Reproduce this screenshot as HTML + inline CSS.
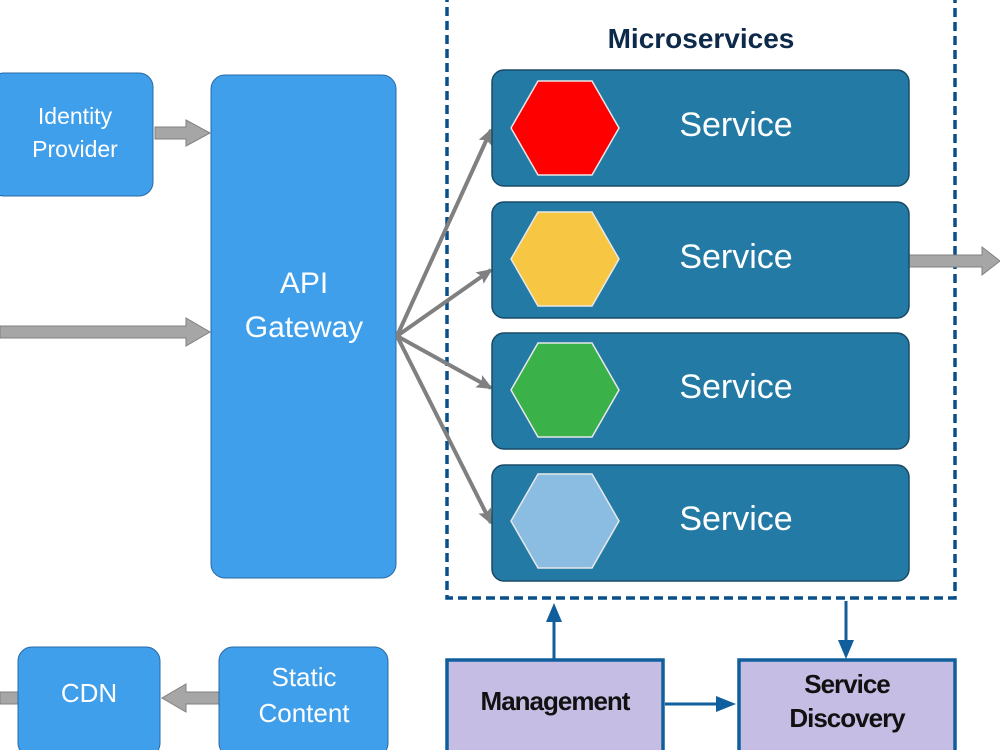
<!DOCTYPE html>
<html><head><meta charset="utf-8"><style>html,body{margin:0;padding:0;background:#fff}svg{display:block}</style></head>
<body>
<svg width="1000" height="750" viewBox="0 0 1000 750" xmlns="http://www.w3.org/2000/svg" font-family="'Liberation Sans',sans-serif">
<defs>
<marker id="ga" markerWidth="16" markerHeight="14" refX="14" refY="7" orient="auto" markerUnits="userSpaceOnUse"><path d="M0,0 L16,7 L0,14 L3,7 Z" fill="#808080"/></marker>
</defs>
<!-- Dashed container -->
<rect x="447" y="-2" width="508" height="600" fill="none" stroke="#0a4f8a" stroke-width="3.5" stroke-dasharray="9,5"/>
<text x="701" y="48" text-anchor="middle" font-size="28" font-weight="bold" fill="#0d2a4a">Microservices</text>

<!-- Identity Provider -->
<rect x="-10" y="73" width="163" height="123" rx="14" fill="#3f9feb" stroke="#2a6aa8" stroke-width="1"/>
<text x="75" y="124" text-anchor="middle" font-size="23" fill="#fff">Identity</text>
<text x="75" y="157" text-anchor="middle" font-size="23" fill="#fff">Provider</text>

<!-- API Gateway -->
<rect x="211" y="75" width="185" height="503" rx="14" fill="#3f9feb" stroke="#2a6aa8" stroke-width="1"/>
<text x="304" y="293" text-anchor="middle" font-size="30" fill="#fff">API</text>
<text x="304" y="337" text-anchor="middle" font-size="30" fill="#fff">Gateway</text>

<!-- thick gray arrows -->
<g fill="#a6a6a6" stroke="#808080" stroke-width="1">
<path d="M155,127 H186 V120 L210,133 L186,146 V139 H155 Z"/>
<path d="M0,326 H186 V318 L210,332 L186,346 V338 H0 Z"/>
<path d="M909,255 H982 V247 L1000,261 L982,275 V267 H909 Z"/>
<path d="M219,692 H186 V684 L162,698 L186,712 V704 H219 Z"/>
<path d="M0,692 H18 V704 H0 Z"/>
</g>

<!-- fan arrows -->
<g stroke="#808080" stroke-width="4" fill="none" marker-end="url(#ga)">
<line x1="397" y1="336" x2="491" y2="130"/>
<line x1="397" y1="336" x2="491" y2="270"/>
<line x1="397" y1="336" x2="491" y2="388"/>
<line x1="397" y1="336" x2="491" y2="523"/>
</g>

<!-- Services -->
<g>
<rect x="492" y="70" width="417" height="116" rx="12" fill="#237ba5" stroke="#1a4a66" stroke-width="1.5"/>
<rect x="492" y="202" width="417" height="116" rx="12" fill="#237ba5" stroke="#1a4a66" stroke-width="1.5"/>
<rect x="492" y="333" width="417" height="116" rx="12" fill="#237ba5" stroke="#1a4a66" stroke-width="1.5"/>
<rect x="492" y="465" width="417" height="116" rx="12" fill="#237ba5" stroke="#1a4a66" stroke-width="1.5"/>
</g>
<g stroke="#e8e8e8" stroke-width="1.5">
<polygon points="511,128 538,81 592,81 619,128 592,175 538,175" fill="#ff0000"/>
<polygon points="511,259 538,212 592,212 619,259 592,306 538,306" fill="#f7c744"/>
<polygon points="511,390 538,343 592,343 619,390 592,437 538,437" fill="#3bb249"/>
<polygon points="511,521 538,474 592,474 619,521 592,568 538,568" fill="#8bbde3"/>
</g>
<g font-size="34" fill="#fff" text-anchor="middle">
<text x="736" y="136">Service</text>
<text x="736" y="268">Service</text>
<text x="736" y="398">Service</text>
<text x="736" y="530">Service</text>
</g>

<!-- CDN / Static -->
<rect x="18" y="647" width="142" height="110" rx="14" fill="#3f9feb" stroke="#2a6aa8" stroke-width="1"/>
<text x="89" y="702" text-anchor="middle" font-size="26" fill="#fff">CDN</text>
<rect x="219" y="647" width="169" height="110" rx="14" fill="#3f9feb" stroke="#2a6aa8" stroke-width="1"/>
<text x="304" y="686" text-anchor="middle" font-size="26" fill="#fff">Static</text>
<text x="304" y="722" text-anchor="middle" font-size="26" fill="#fff">Content</text>

<!-- Management / Service Discovery -->
<rect x="447" y="660" width="216" height="100" fill="#c6bde4" stroke="#115e9c" stroke-width="3.5"/>
<text x="555" y="710" text-anchor="middle" font-size="26" font-weight="bold" fill="#111" letter-spacing="-1">Management</text>
<rect x="739" y="660" width="216" height="100" fill="#c6bde4" stroke="#115e9c" stroke-width="3.5"/>
<text x="847" y="693" text-anchor="middle" font-size="26" font-weight="bold" fill="#111" letter-spacing="-1">Service</text>
<text x="847" y="727" text-anchor="middle" font-size="26" font-weight="bold" fill="#111" letter-spacing="-1">Discovery</text>

<!-- blue arrows -->
<g stroke="#115e9c" stroke-width="3" fill="#115e9c">
<line x1="554" y1="659" x2="554" y2="620"/>
<polygon points="546,622 554,603 562,622" stroke="none"/>
<line x1="846" y1="601" x2="846" y2="640"/>
<polygon points="838,640 846,659 854,640" stroke="none"/>
<line x1="665" y1="704" x2="718" y2="704"/>
<polygon points="716,696 736,704 716,712" stroke="none"/>
</g>
</svg>
</body></html>
